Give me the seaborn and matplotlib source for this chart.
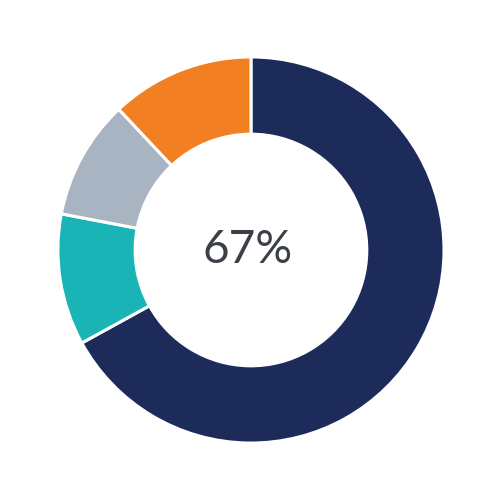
import matplotlib
matplotlib.use("Agg")
import matplotlib.pyplot as plt
import seaborn as sns

# donut shares, clockwise from 12 o'clock
labels = ["Main", "Teal", "Gray", "Orange"]
shares = [67, 11, 10, 12]
colors = ["#1c2b5a", "#1bb4b6", "#a9b4c2", "#f27f22"]
center_label = "67%"

sns.set_style("white")
plt.rcParams["font.family"] = ["Lato", "DejaVu Sans"]

fig = plt.figure(figsize=(5, 5), dpi=100)
ax = fig.add_axes([0, 0, 1, 1])

ax.pie(shares, colors=colors, startangle=90, counterclock=False,
       radius=1.0,
       wedgeprops=dict(width=0.4, edgecolor="white", linewidth=2.2))

ax.text(-0.02, 0.0, center_label, ha="center", va="center",
        fontsize=33, fontweight="normal", color="#3b3f48")

ax.set_xlim(-1.3, 1.29)
ax.set_ylim(-1.295, 1.295)
ax.set_aspect("equal")
ax.axis("off")

fig.savefig("out.png", dpi=100, facecolor="white")
